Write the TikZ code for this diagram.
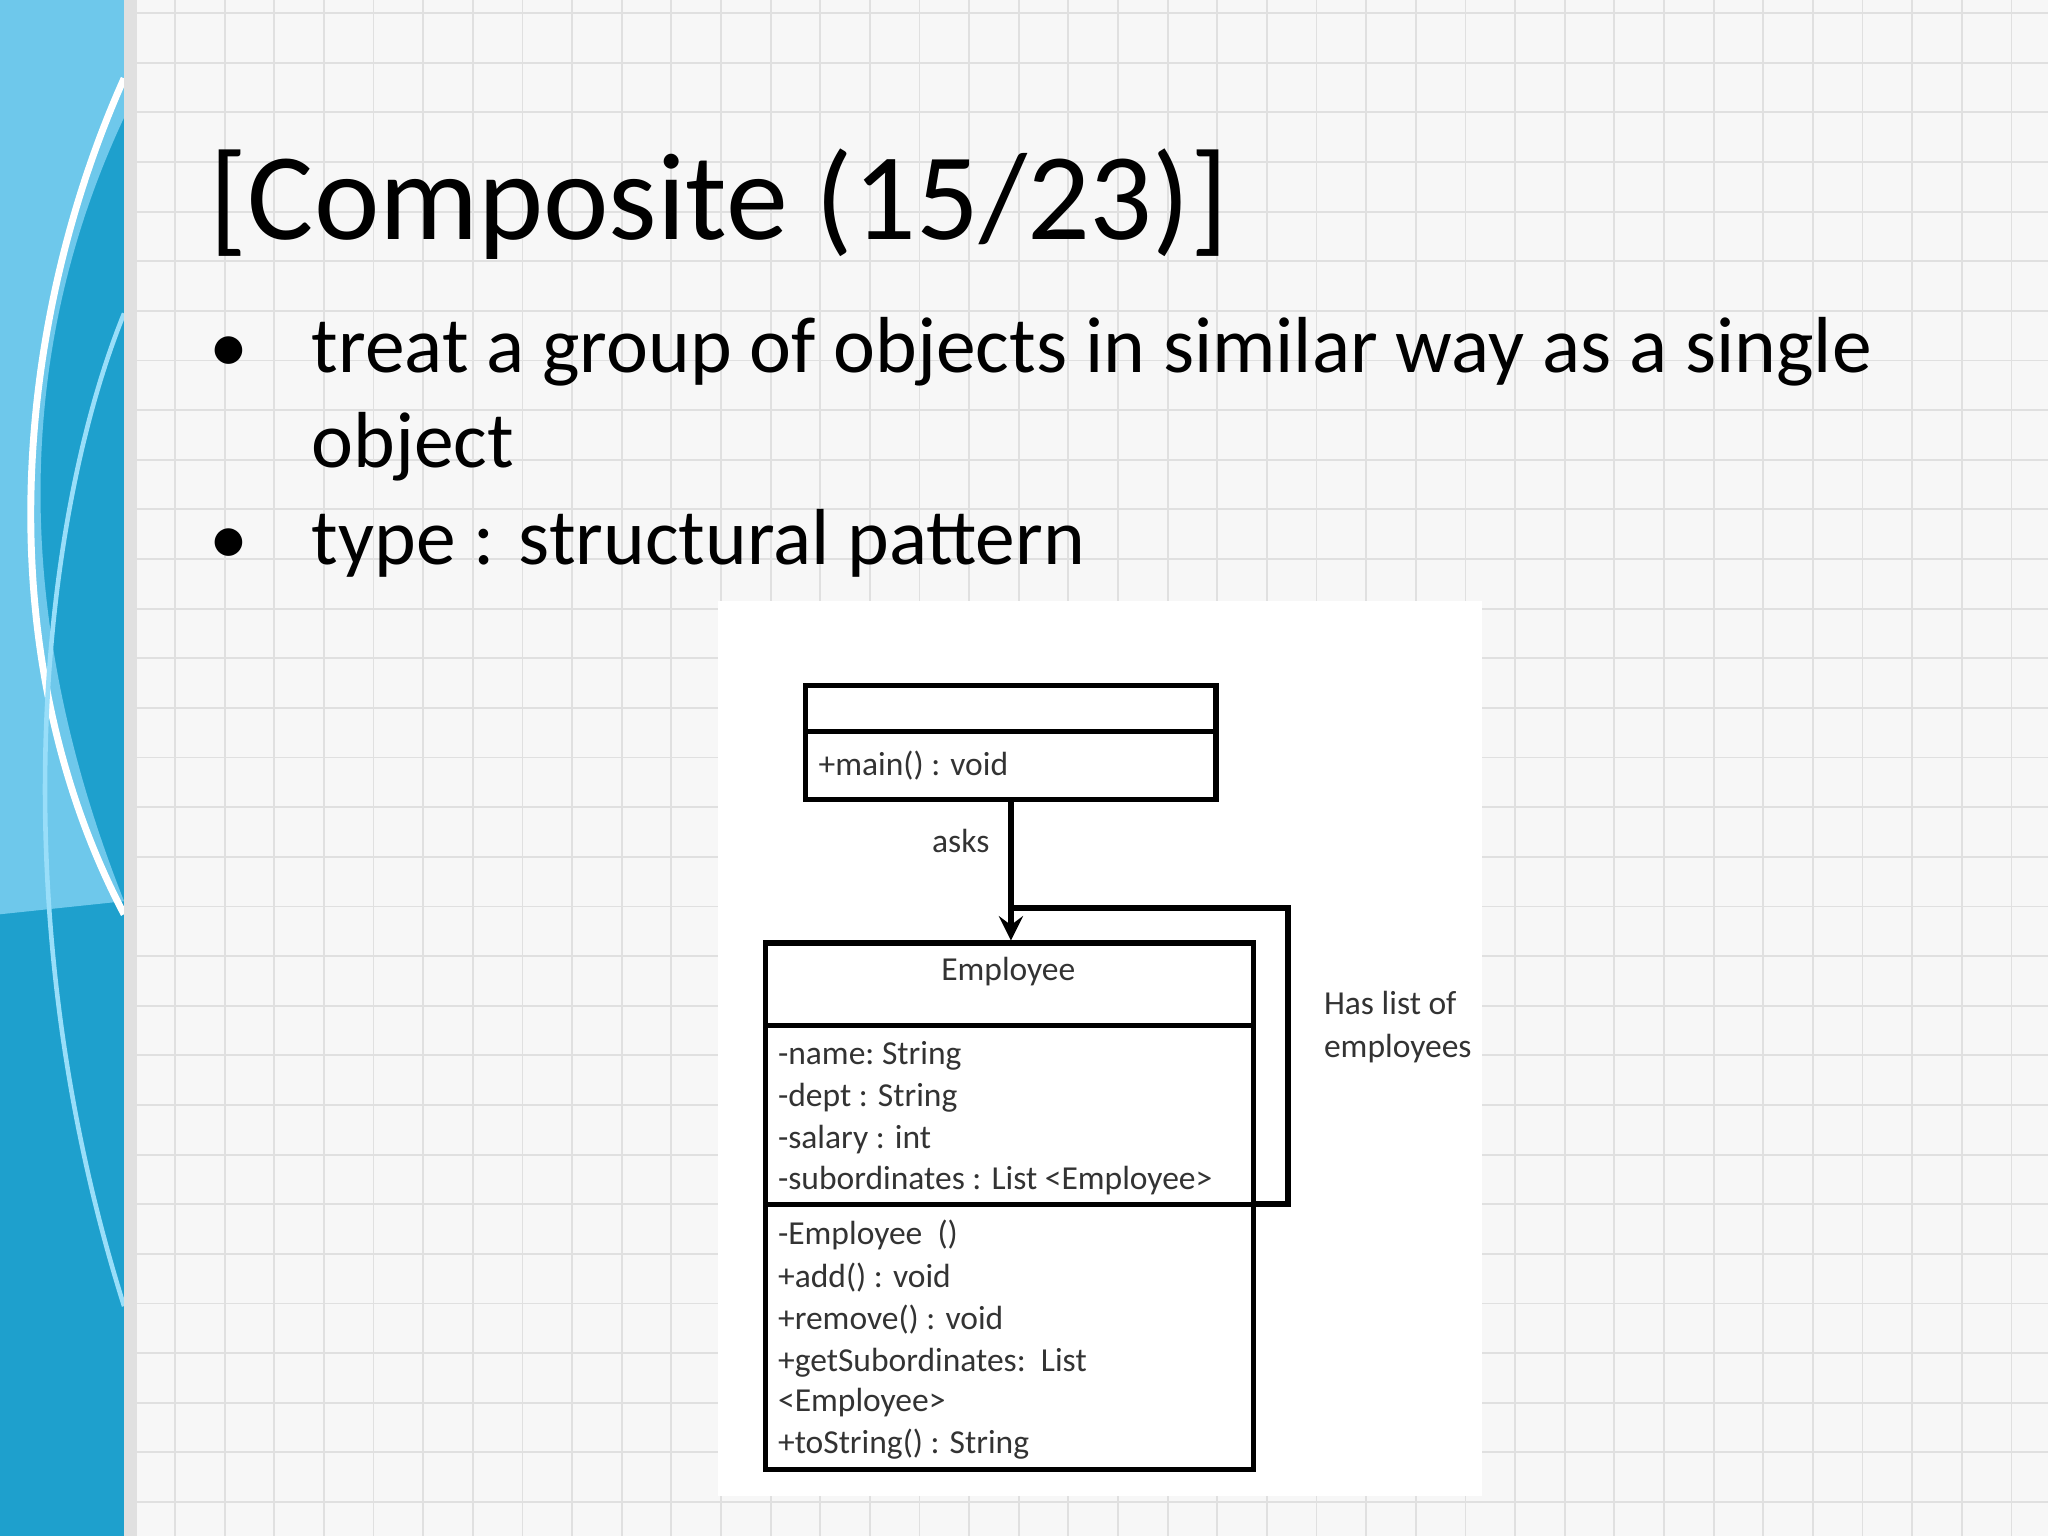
\documentclass[tikz,border=0pt]{standalone}
\usepackage{fontspec}
\setmainfont{Carlito}
\definecolor{band}{RGB}{30,160,205}
\definecolor{bandl}{RGB}{110,200,235}
\begin{document}
\begin{tikzpicture}[x=0.01cm,y=-0.01cm,
 box/.style={draw=black,line width=1.1pt},
 lbl/.style={font=\fontsize{7.3}{9}\selectfont,anchor=base west,inner sep=0pt,text=black!80}]
\useasboundingbox (0,0) rectangle (1568,1176);
\fill[black!3] (0,0) rectangle (1568,1176);
\foreach \i in {0,...,41} {\draw[black!12,line width=0.4pt] (\i*38+20,0) -- (\i*38+20,1176);}
\foreach \j in {0,...,31} {\draw[black!12,line width=0.4pt] (0,\j*38+10) -- (1568,\j*38+10);}
% left band
\fill[band] (0,0) rectangle (95,1176);
\fill[bandl] (0,0) -- (95,0) -- (95,90) .. controls (20,250) and (0,450) .. (95,690) -- (0,700) -- cycle;
\draw[white,line width=1.5pt] (95,60) .. controls (10,250) and (-10,500) .. (95,700);
\draw[white!60!cyan,line width=1pt] (95,240) .. controls (30,400) and (0,700) .. (95,1000);
\fill[black!12] (95,0) rectangle (105,1176);
% title and bullets
\node[anchor=base west,inner sep=0pt,font=\fontsize{27}{32}\selectfont] (title) at (160,183) {[Composite (15/23)]};
\node[anchor=base west,inner sep=0pt,font=\fontsize{17}{20}\selectfont] (b1) at (160,285) {•};
\node[anchor=base west,inner sep=0pt,font=\fontsize{17.3}{20}\selectfont] (t1) at (238,285) {treat a group of objects in similar way as a single};
\node[anchor=base west,inner sep=0pt,font=\fontsize{17.3}{20}\selectfont] (t1b) at (238,358) {object};
\node[anchor=base west,inner sep=0pt,font=\fontsize{17}{20}\selectfont] (b2) at (160,432) {•};
\node[anchor=base west,inner sep=0pt,font=\fontsize{17.3}{20}\selectfont] (t2) at (238,432) {type : structural pattern};
% diagram
\fill[white] (550,460) rectangle (1135,1145);
\draw[box] (617,525) rectangle (931,612);
\draw[box] (617,560) -- (931,560);
\coordinate (mtop) at (774,612);
\draw[box] (586,722) rectangle (960,1125);
\draw[box] (586,785) -- (960,785);
\draw[box] (586,922) -- (960,922);
\coordinate (etop) at (774,720);
\draw[line width=1.3pt,-stealth] (mtop) -- (etop);
\draw[line width=1.3pt] (774,695) -- (986,695) -- (986,922) -- (960,922);
\node[lbl] (m) at (626,594) {+main() : void};
\node[lbl] (asks) at (713,653) {asks};
\node[lbl,anchor=base] (emp) at (772,751) {Employee};
\node[lbl] (h1) at (1013,777) {Has list of};
\node[lbl] (h2) at (1013,810) {employees};
\node[lbl] (a1) at (595,815) {-name:\ String};
\node[lbl] (a2) at (595,847) {-dept : String};
\node[lbl] (a3) at (595,879) {-salary : int};
\node[lbl] (a4) at (595,911) {-subordinates : List <Employee>};
\node[lbl] (o1) at (595,953) {-Employee\ \ ()};
\node[lbl] (o2) at (595,986) {+add() : void};
\node[lbl] (o3) at (595,1018) {+remove() : void};
\node[lbl] (o4) at (595,1050) {+getSubordinates:\ \ List};
\node[lbl] (o5) at (595,1081) {<Employee>};
\node[lbl] (o6) at (595,1113) {+toString() : String};
\end{tikzpicture}
\end{document}
